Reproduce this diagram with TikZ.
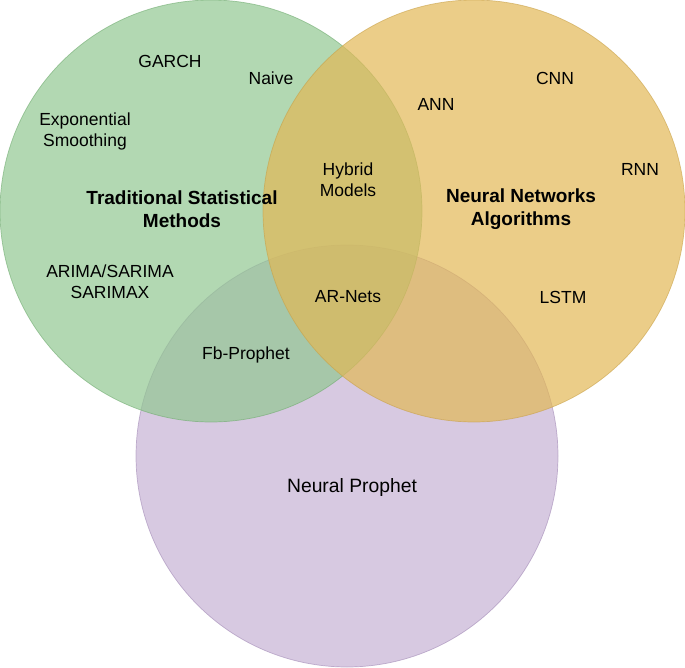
\documentclass[tikz,border=0pt]{standalone}
\usepackage{fontspec}
\setmainfont{Liberation Sans}
\definecolor{greenC}{RGB}{145,199,145}
\definecolor{orangeC}{RGB}{226,184,86}
\definecolor{purpleC}{RGB}{198,178,212}
\definecolor{greenS}{RGB}{110,170,110}
\definecolor{orangeS}{RGB}{200,160,70}
\definecolor{purpleS}{RGB}{160,135,180}
\begin{document}
\begin{tikzpicture}[x=1pt,y=-1pt,
  setc/.style={fill opacity=0.7,draw opacity=0.6,line width=0.7pt},
  lbl/.style={font=\fontsize{17.5}{21}\selectfont,align=center,inner sep=0pt,text=black},
  big/.style={font=\fontsize{19}{23}\selectfont\bfseries,align=center,inner sep=0pt,text=black},
  np/.style={font=\fontsize{19.3}{22}\selectfont,align=center,inner sep=0pt,text=black}]
\useasboundingbox (0,0) rectangle (685,668);
% circles
\path[setc,fill=purpleC,draw=purpleS] (347,456) circle (211);
\path[setc,fill=greenC,draw=greenS] (211,211) circle (211);
\path[setc,fill=orangeC,draw=orangeS] (474,211) circle (211);
% labels
\node[lbl] (garch) at (170,61) {GARCH};
\node[lbl] (naive) at (271,78) {Naive};
\node[lbl] (expo) at (85,131) {Exponential\\Smoothing};
\node[lbl] (ann) at (436,104) {ANN};
\node[lbl] (cnn) at (555,78) {CNN};
\node[lbl] (rnn) at (640,169) {RNN};
\node[lbl] (hybrid) at (348,180) {Hybrid\\Models};
\node[big] (trad) at (182,209) {Traditional Statistical\\Methods};
\node[big] (nna) at (521,209) {Neural Networks\\Algorithms};
\node[lbl] (arima) at (110,282) {ARIMA/SARIMA\\SARIMAX};
\node[lbl] (arnets) at (348,297) {AR-Nets};
\node[lbl] (lstm) at (563,297) {LSTM};
\node[lbl] (fb) at (246,355) {Fb-Prophet};
\node[np] (nprophet) at (352,488) {Neural Prophet};
\end{tikzpicture}
\end{document}
